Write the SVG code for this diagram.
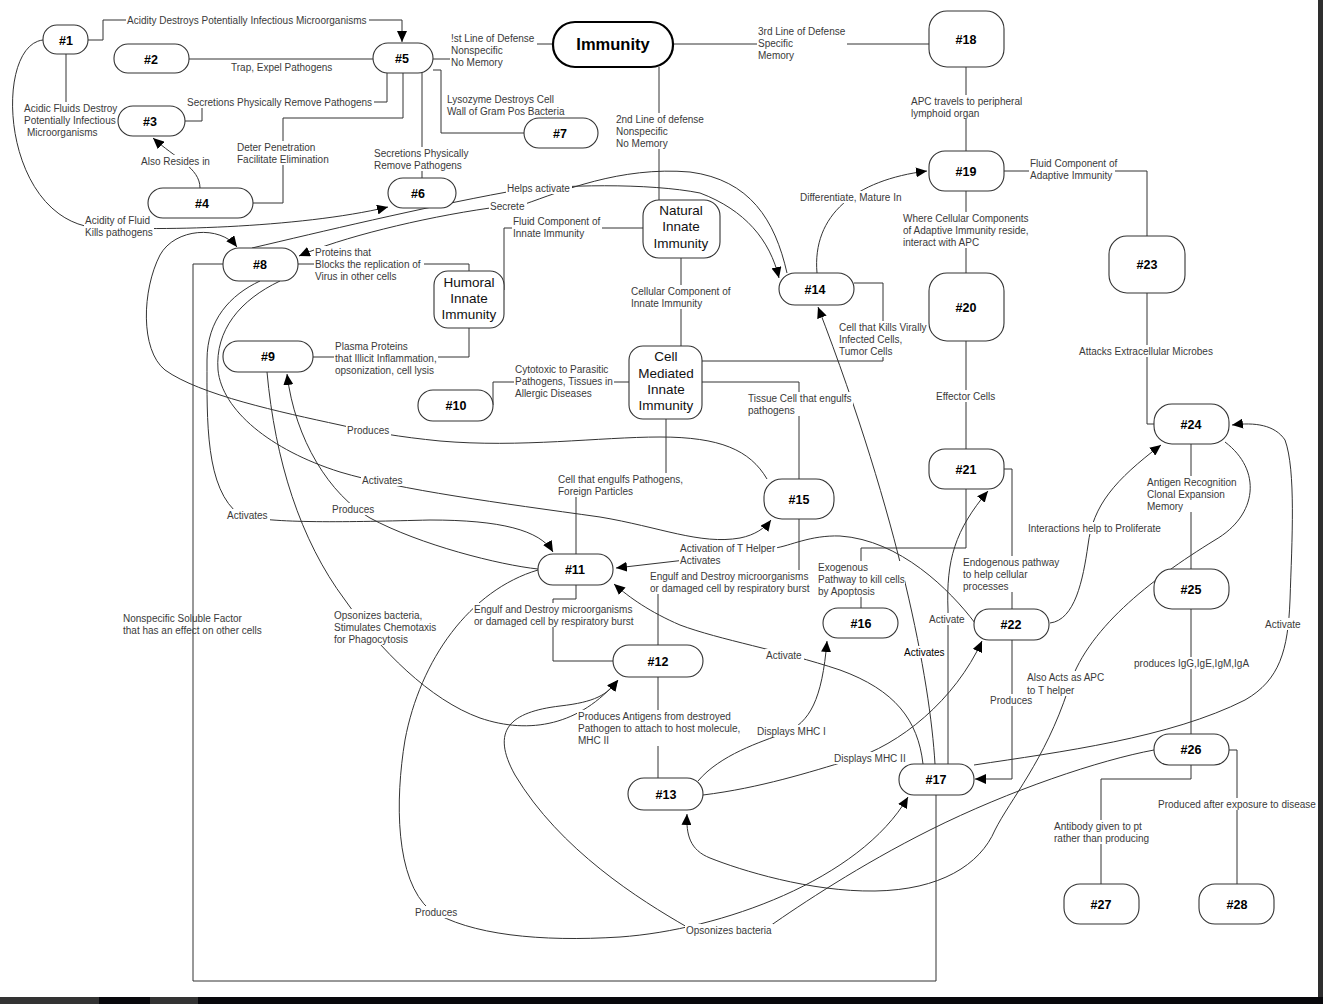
<svg xmlns="http://www.w3.org/2000/svg" width="1323" height="1004" viewBox="0 0 1323 1004">
<style>
.n{fill:#fff;stroke:#333;stroke-width:1.1}
.nt{font-family:"Liberation Sans",Arial,sans-serif;font-weight:bold;font-size:12.5px;text-anchor:middle;fill:#000}
.bt{font-family:"Liberation Sans",Arial,sans-serif;font-size:13.5px;text-anchor:middle;fill:#111}
.c{fill:none;stroke:#333;stroke-width:1}
.ca{fill:none;stroke:#333;stroke-width:1;marker-end:url(#ar)}
.lb{fill:#fff}
.lt{font-family:"Liberation Sans",Arial,sans-serif;font-size:10px;fill:#3a3a3a}
</style>
<defs>
<marker id="ar" markerUnits="userSpaceOnUse" markerWidth="12" markerHeight="10" refX="11" refY="5" orient="auto">
<path d="M0,0 L11,5 L0,10 Z" fill="#000"/>
</marker>
</defs>
<rect x="0" y="0" width="1323" height="1004" fill="#fff"/>
<g id="connectors">
<path class="ca" d="M88,40 H103 V20 H402 V42"/>
<path class="c" d="M189,59 H373"/>
<path class="c" d="M66,54 V121 H118"/>
<path class="c" d="M185,121 H202 V102 H387 V73"/>
<path class="c" d="M253,203 H283 V118 H403 V73"/>
<path class="ca" d="M200,188 C200,168 175,158 153,138"/>
<path class="ca" d="M43,40 C-5,45 0,205 85,226 C150,232 300,228 388,207"/>
<path class="c" d="M433,59 H493 V44 H553"/>
<path class="c" d="M433,70 H441 V133 H524"/>
<path class="c" d="M422,73 V178"/>
<path class="c" d="M673,44 H929"/>
<path class="c" d="M659,67 V200"/>
<path class="c" d="M966,67 V151"/>
<path class="c" d="M966,191 V273"/>
<path class="c" d="M1004,171 H1147 V236"/>
<path class="c" d="M1147,293 V424 H1154"/>
<path class="c" d="M966,341 V449"/>
<path class="c" d="M966,489 V548 H861 V608"/>
<path class="c" d="M1004,469 H1012 V609"/>
<path class="ca" d="M1012,640 V779 H975"/>
<path class="ca" d="M1050,623 C1075,620 1083,580 1088,545 C1093,505 1115,480 1161,445"/>
<path class="c" d="M1191,444 V569"/>
<path class="c" d="M1191,609 V734"/>
<path class="c" d="M1191,765 V779 H1101 V884"/>
<path class="c" d="M1229,750 H1237 V884"/>
<path class="ca" d="M1154,750 C1100,760 1010,790 930,830 C860,865 800,905 770,926 L687,927 C640,900 560,850 515,775 C490,730 510,712 560,706 C595,702 607,695 618,680"/>
<path class="ca" d="M974,765 C1060,752 1170,738 1245,700 C1280,680 1288,650 1290,600 C1292,540 1296,470 1285,440 C1275,425 1255,422 1232,425"/>
<path class="ca" d="M1225,442 C1262,470 1258,515 1215,540 C1150,580 1085,630 1068,690 C1045,760 1010,800 995,830 C980,865 940,890 875,891 C810,892 740,870 710,858 C690,850 686,835 687,814"/>
<path class="c" d="M936,795 V981 H193 V264 H223"/>
<path class="ca" d="M538,570 C470,590 420,660 405,740 C395,800 395,880 430,910 C470,935 540,942 620,937 C720,930 860,880 908,797"/>
<path class="ca" d="M703,795 C760,788 810,772 850,760 C900,745 955,700 982,641"/>
<path class="ca" d="M698,781 C720,755 760,742 785,733 C810,722 822,700 827,641"/>
<path class="ca" d="M923,764 C918,720 895,690 840,670 C780,650 720,640 680,625 C650,612 630,598 614,584"/>
<path class="ca" d="M935,764 C930,680 900,520 818,307"/>
<path class="ca" d="M948,764 V610 C946,560 955,530 988,491"/>
<path class="ca" d="M817,273 C812,215 855,180 927,171"/>
<path class="ca" d="M252,248 C320,232 420,208 507,192 C560,184 650,183 700,193 C745,210 770,240 779,278"/>
<path class="ca" d="M787,273 C775,220 750,180 690,172 C620,166 560,192 525,204 L490,208 C420,218 340,238 299,256"/>
<path class="c" d="M298,264 H469 V271"/>
<path class="c" d="M313,357 H469 V328"/>
<path class="c" d="M643,228 H504 V290"/>
<path class="c" d="M681,258 V346"/>
<path class="c" d="M629,382 H493 V405"/>
<path class="c" d="M702,361 H883 V283 H854"/>
<path class="c" d="M702,382 H799 V479"/>
<path class="c" d="M666,419 V485 H576 V554"/>
<path class="c" d="M576,585 V599 H553 V661 H613"/>
<path class="c" d="M799,519 V580 H658 V645"/>
<path class="c" d="M658,677 V778"/>
<path class="ca" d="M767,479 C750,450 720,437 660,437 C600,437 520,448 440,441 C400,437 370,432 340,425 C280,412 200,395 165,370 C140,350 142,290 160,255 C175,228 220,225 237,247"/>
<path class="ca" d="M280,281 C240,300 215,330 218,370 C222,410 270,450 340,472 C400,490 500,503 600,517 C660,527 700,545 740,538 C755,535 765,528 771,520"/>
<path class="ca" d="M260,281 C230,295 207,320 207,360 C207,420 205,490 240,515 C270,524 350,522 430,520 C500,520 540,530 553,552"/>
<path class="ca" d="M538,569 C500,565 420,545 370,518 C330,495 295,440 287,374"/>
<path class="ca" d="M267,372 C275,460 300,540 345,600 C380,650 430,700 480,718 C530,735 580,725 618,680"/>
<path class="ca" d="M975,623 C950,590 900,540 840,536 C810,535 790,546 775,548 L720,556 L616,568"/>
</g>
<g id="labels">
<rect class="lb" x="126" y="14" width="243" height="12"/><text class="lt" x="127" y="23.5">Acidity Destroys Potentially Infectious Microorganisms</text>
<text class="lt" x="231" y="70.5">Trap, Expel Pathogens</text>
<rect class="lb" x="23" y="102" width="96" height="36"/><text class="lt"><tspan x="24" y="111.5">Acidic Fluids Destroy</tspan><tspan x="24" y="123.5">Potentially Infectious</tspan><tspan x="27" y="135.5">Microorganisms</tspan></text>
<rect class="lb" x="186" y="96" width="188" height="12"/><text class="lt" x="187" y="105.5">Secretions Physically Remove Pathogens</text>
<rect class="lb" x="140" y="155" width="72" height="12"/><text class="lt" x="141" y="164.5">Also Resides in</text>
<rect class="lb" x="236" y="141" width="96" height="24"/><text class="lt"><tspan x="237" y="150.5">Deter Penetration</tspan><tspan x="237" y="162.5">Facilitate Elimination</tspan></text>
<rect class="lb" x="84" y="214" width="70" height="24"/><text class="lt"><tspan x="85" y="223.5">Acidity of Fluid</tspan><tspan x="85" y="235.5">Kills pathogens</tspan></text>
<rect class="lb" x="450" y="32" width="87" height="36"/><text class="lt"><tspan x="451" y="41.5">!st Line of Defense</tspan><tspan x="451" y="53.5">Nonspecific</tspan><tspan x="451" y="65.5">No Memory</tspan></text>
<text class="lt"><tspan x="447" y="102.5">Lysozyme Destroys Cell</tspan><tspan x="447" y="114.5">Wall of Gram Pos Bacteria</tspan></text>
<rect class="lb" x="373" y="147" width="97" height="24"/><text class="lt"><tspan x="374" y="156.5">Secretions Physically</tspan><tspan x="374" y="168.5">Remove Pathogens</tspan></text>
<rect class="lb" x="757" y="25" width="90" height="36"/><text class="lt"><tspan x="758" y="34.5">3rd Line of Defense</tspan><tspan x="758" y="46.5">Specific</tspan><tspan x="758" y="58.5">Memory</tspan></text>
<rect class="lb" x="615" y="113" width="90" height="36"/><text class="lt"><tspan x="616" y="122.5">2nd Line of defense</tspan><tspan x="616" y="134.5">Nonspecific</tspan><tspan x="616" y="146.5">No Memory</tspan></text>
<rect class="lb" x="910" y="95" width="113" height="24"/><text class="lt"><tspan x="911" y="104.5">APC travels to peripheral</tspan><tspan x="911" y="116.5">lymphoid organ</tspan></text>
<rect class="lb" x="902" y="212" width="129" height="36"/><text class="lt"><tspan x="903" y="221.5">Where Cellular Components</tspan><tspan x="903" y="233.5">of Adaptive Immunity reside,</tspan><tspan x="903" y="245.5">interact with APC</tspan></text>
<rect class="lb" x="1029" y="157" width="86" height="24"/><text class="lt"><tspan x="1030" y="166.5">Fluid Component of</tspan><tspan x="1030" y="178.5">Adaptive Immunity</tspan></text>
<rect class="lb" x="1078" y="345" width="137" height="12"/><text class="lt" x="1079" y="354.5">Attacks Extracellular Microbes</text>
<rect class="lb" x="799" y="191" width="104" height="12"/><text class="lt" x="800" y="200.5">Differentiate, Mature In</text>
<rect class="lb" x="506" y="182" width="66" height="12"/><text class="lt" x="507" y="191.5">Helps activate</text>
<rect class="lb" x="489" y="200" width="38" height="12"/><text class="lt" x="490" y="209.5">Secrete</text>
<rect class="lb" x="512" y="215" width="90" height="24"/><text class="lt"><tspan x="513" y="224.5">Fluid Component of</tspan><tspan x="513" y="236.5">Innate Immunity</tspan></text>
<rect class="lb" x="314" y="246" width="110" height="36"/><text class="lt"><tspan x="315" y="255.5">Proteins that</tspan><tspan x="315" y="267.5">Blocks the replication of</tspan><tspan x="315" y="279.5">Virus in other cells</tspan></text>
<rect class="lb" x="630" y="285" width="103" height="24"/><text class="lt"><tspan x="631" y="294.5">Cellular Component of</tspan><tspan x="631" y="306.5">Innate Immunity</tspan></text>
<rect class="lb" x="838" y="321" width="91" height="36"/><text class="lt"><tspan x="839" y="330.5">Cell that Kills Virally</tspan><tspan x="839" y="342.5">Infected Cells,</tspan><tspan x="839" y="354.5">Tumor Cells</tspan></text>
<rect class="lb" x="334" y="340" width="104" height="36"/><text class="lt"><tspan x="335" y="349.5">Plasma Proteins</tspan><tspan x="335" y="361.5">that Illicit Inflammation,</tspan><tspan x="335" y="373.5">opsonization, cell lysis</tspan></text>
<rect class="lb" x="514" y="363" width="100" height="36"/><text class="lt"><tspan x="515" y="372.5">Cytotoxic to Parasitic</tspan><tspan x="515" y="384.5">Pathogens, Tissues in</tspan><tspan x="515" y="396.5">Allergic Diseases</tspan></text>
<rect class="lb" x="747" y="392" width="106" height="24"/><text class="lt"><tspan x="748" y="401.5">Tissue Cell that engulfs</tspan><tspan x="748" y="413.5">pathogens</tspan></text>
<rect class="lb" x="935" y="390" width="63" height="12"/><text class="lt" x="936" y="399.5">Effector Cells</text>
<rect class="lb" x="346" y="424" width="45" height="12"/><text class="lt" x="347" y="433.5">Produces</text>
<rect class="lb" x="361" y="474" width="42" height="12"/><text class="lt" x="362" y="483.5">Activates</text>
<rect class="lb" x="557" y="473" width="129" height="24"/><text class="lt"><tspan x="558" y="482.5">Cell that engulfs Pathogens,</tspan><tspan x="558" y="494.5">Foreign Particles</tspan></text>
<rect class="lb" x="226" y="509" width="44" height="12"/><text class="lt" x="227" y="518.5">Activates</text>
<rect class="lb" x="331" y="503" width="44" height="12"/><text class="lt" x="332" y="512.5">Produces</text>
<rect class="lb" x="1146" y="476" width="93" height="36"/><text class="lt"><tspan x="1147" y="485.5">Antigen Recognition</tspan><tspan x="1147" y="497.5">Clonal Expansion</tspan><tspan x="1147" y="509.5">Memory</tspan></text>
<rect class="lb" x="1027" y="522" width="136" height="12"/><text class="lt" x="1028" y="531.5">Interactions help to Proliferate</text>
<rect class="lb" x="679" y="542" width="98" height="24"/><text class="lt"><tspan x="680" y="551.5">Activation of T Helper</tspan><tspan x="680" y="563.5">Activates</tspan></text>
<rect class="lb" x="817" y="561" width="88" height="36"/><text class="lt"><tspan x="818" y="570.5">Exogenous</tspan><tspan x="818" y="582.5">Pathway to kill cells</tspan><tspan x="818" y="594.5">by Apoptosis</tspan></text>
<rect class="lb" x="962" y="556" width="99" height="36"/><text class="lt"><tspan x="963" y="565.5">Endogenous pathway</tspan><tspan x="963" y="577.5">to help cellular</tspan><tspan x="963" y="589.5">processes</tspan></text>
<rect class="lb" x="649" y="570" width="161" height="24"/><text class="lt"><tspan x="650" y="579.5">Engulf and Destroy microorganisms</tspan><tspan x="650" y="591.5">or damaged cell by respiratory burst</tspan></text>
<text class="lt"><tspan x="123" y="621.5">Nonspecific Soluble Factor</tspan><tspan x="123" y="633.5">that has an effect on other cells</tspan></text>
<rect class="lb" x="333" y="609" width="90" height="36"/><text class="lt"><tspan x="334" y="618.5">Opsonizes bacteria,</tspan><tspan x="334" y="630.5">Stimulates Chemotaxis</tspan><tspan x="334" y="642.5">for Phagocytosis</tspan></text>
<rect class="lb" x="473" y="603" width="162" height="24"/><text class="lt"><tspan x="474" y="612.5">Engulf and Destroy microorganisms</tspan><tspan x="474" y="624.5">or damaged cell by respiratory burst</tspan></text>
<rect class="lb" x="928" y="613" width="38" height="12"/><text class="lt" x="929" y="622.5">Activate</text>
<rect class="lb" x="1264" y="618" width="38" height="12"/><text class="lt" x="1265" y="627.5">Activate</text>
<rect class="lb" x="903" y="646" width="44" height="12"/><text class="lt" x="904" y="655.5" fill="#000" style="fill:#000">Activates</text>
<rect class="lb" x="765" y="649" width="39" height="12"/><text class="lt" x="766" y="658.5">Activate</text>
<rect class="lb" x="1133" y="657" width="118" height="12"/><text class="lt" x="1134" y="666.5">produces IgG,IgE,IgM,IgA</text>
<rect class="lb" x="1026" y="671" width="81" height="25"/><text class="lt"><tspan x="1027" y="680.5">Also Acts as APC</tspan><tspan x="1027" y="693.5">to T helper</tspan></text>
<rect class="lb" x="989" y="694" width="45" height="12"/><text class="lt" x="990" y="703.5">Produces</text>
<rect class="lb" x="577" y="710" width="165" height="36"/><text class="lt"><tspan x="578" y="719.5">Produces Antigens from destroyed</tspan><tspan x="578" y="731.5">Pathogen to attach to host molecule,</tspan><tspan x="578" y="743.5">MHC II</tspan></text>
<rect class="lb" x="756" y="725" width="72" height="12"/><text class="lt" x="757" y="734.5">Displays MHC I</text>
<rect class="lb" x="833" y="752" width="73" height="12"/><text class="lt" x="834" y="761.5">Displays MHC II</text>
<rect class="lb" x="1157" y="798" width="160" height="12"/><text class="lt" x="1158" y="807.5">Produced after exposure to disease</text>
<rect class="lb" x="1053" y="820" width="98" height="24"/><text class="lt"><tspan x="1054" y="829.5">Antibody given to pt</tspan><tspan x="1054" y="841.5">rather than producing</tspan></text>
<rect class="lb" x="414" y="906" width="45" height="12"/><text class="lt" x="415" y="915.5">Produces</text>
<rect class="lb" x="685" y="924" width="88" height="12"/><text class="lt" x="686" y="933.5">Opsonizes bacteria</text>
</g>
<g id="nodes">
<g id="n1"><rect class="n" x="43" y="25" width="45" height="29" rx="14"/><text class="nt" x="66" y="44.5">#1</text></g>
<g id="n2"><rect class="n" x="114" y="44" width="75" height="29" rx="14"/><text class="nt" x="151" y="63.5">#2</text></g>
<g id="n3"><rect class="n" x="118" y="106" width="67" height="30" rx="15"/><text class="nt" x="150" y="125.5">#3</text></g>
<g id="n4"><rect class="n" x="148" y="188" width="105" height="30" rx="15"/><text class="nt" x="202" y="207.5">#4</text></g>
<g id="n5"><rect class="n" x="373" y="43" width="60" height="30" rx="15"/><text class="nt" x="402" y="62.5">#5</text></g>
<g id="n6"><rect class="n" x="388" y="178" width="68" height="30" rx="15"/><text class="nt" x="418" y="197.5">#6</text></g>
<g id="n7"><rect class="n" x="524" y="118" width="74" height="30" rx="15"/><text class="nt" x="560" y="137.5">#7</text></g>
<g id="immunity"><rect class="n" x="553" y="22" width="120" height="45" rx="22" style="stroke:#000;stroke-width:2.2"/><text class="nt" x="613" y="50" style="font-size:16.5px">Immunity</text></g>
<g id="n18"><rect class="n" x="929" y="11" width="75" height="56" rx="18"/><text class="nt" x="966" y="43.5">#18</text></g>
<g id="n19"><rect class="n" x="929" y="151" width="75" height="40" rx="16"/><text class="nt" x="966" y="175.5">#19</text></g>
<g id="n20"><rect class="n" x="929" y="273" width="75" height="68" rx="18"/><text class="nt" x="966" y="311.5">#20</text></g>
<g id="n23"><rect class="n" x="1109" y="236" width="76" height="57" rx="18"/><text class="nt" x="1147" y="268.5">#23</text></g>
<g id="natural"><rect class="n" x="643" y="200" width="77" height="58" rx="16"/><text class="bt"><tspan x="681" y="215">Natural</tspan><tspan x="681" y="231">Innate</tspan><tspan x="681" y="248">Immunity</tspan></text></g>
<g id="humoral"><rect class="n" x="434" y="271" width="70" height="57" rx="14"/><text class="bt"><tspan x="469" y="287">Humoral</tspan><tspan x="469" y="303">Innate</tspan><tspan x="469" y="319">Immunity</tspan></text></g>
<g id="cellmed"><rect class="n" x="629" y="346" width="73" height="73" rx="14"/><text class="bt"><tspan x="666" y="361">Cell</tspan><tspan x="666" y="378">Mediated</tspan><tspan x="666" y="394">Innate</tspan><tspan x="666" y="410">Immunity</tspan></text></g>
<g id="n14"><rect class="n" x="779" y="273" width="75" height="32" rx="16"/><text class="nt" x="815" y="293.5">#14</text></g>
<g id="n8"><rect class="n" x="223" y="248" width="75" height="33" rx="16"/><text class="nt" x="260" y="268.5">#8</text></g>
<g id="n9"><rect class="n" x="223" y="341" width="90" height="31" rx="15"/><text class="nt" x="268" y="361">#9</text></g>
<g id="n10"><rect class="n" x="418" y="390" width="75" height="31" rx="15"/><text class="nt" x="456" y="410">#10</text></g>
<g id="n11"><rect class="n" x="538" y="554" width="75" height="31" rx="15"/><text class="nt" x="575" y="574">#11</text></g>
<g id="n12"><rect class="n" x="613" y="645" width="90" height="32" rx="16"/><text class="nt" x="658" y="665.5">#12</text></g>
<g id="n13"><rect class="n" x="628" y="778" width="75" height="32" rx="16"/><text class="nt" x="666" y="798.5">#13</text></g>
<g id="n15"><rect class="n" x="764" y="479" width="70" height="40" rx="18"/><text class="nt" x="799" y="503.5">#15</text></g>
<g id="n16"><rect class="n" x="823" y="608" width="75" height="30" rx="15"/><text class="nt" x="861" y="627.5">#16</text></g>
<g id="n17"><rect class="n" x="899" y="764" width="75" height="31" rx="15"/><text class="nt" x="936" y="784">#17</text></g>
<g id="n21"><rect class="n" x="929" y="449" width="75" height="40" rx="16"/><text class="nt" x="966" y="473.5">#21</text></g>
<g id="n22"><rect class="n" x="974" y="609" width="75" height="31" rx="15"/><text class="nt" x="1011" y="629">#22</text></g>
<g id="n24"><rect class="n" x="1154" y="404" width="75" height="40" rx="18"/><text class="nt" x="1191" y="428.5">#24</text></g>
<g id="n25"><rect class="n" x="1154" y="569" width="75" height="40" rx="18"/><text class="nt" x="1191" y="593.5">#25</text></g>
<g id="n26"><rect class="n" x="1154" y="734" width="75" height="31" rx="15"/><text class="nt" x="1191" y="754">#26</text></g>
<g id="n27"><rect class="n" x="1064" y="884" width="75" height="40" rx="16"/><text class="nt" x="1101" y="908.5">#27</text></g>
<g id="n28"><rect class="n" x="1199" y="884" width="75" height="40" rx="16"/><text class="nt" x="1237" y="908.5">#28</text></g>
</g>
<rect x="1318" y="0" width="5" height="1004" fill="#2e2e2e"/>
<rect x="0" y="997" width="1323" height="7" fill="#08080c"/>
<rect x="0" y="997" width="99" height="7" fill="#333"/>
<rect x="150" y="997" width="48" height="7" fill="#333"/>
</svg>
